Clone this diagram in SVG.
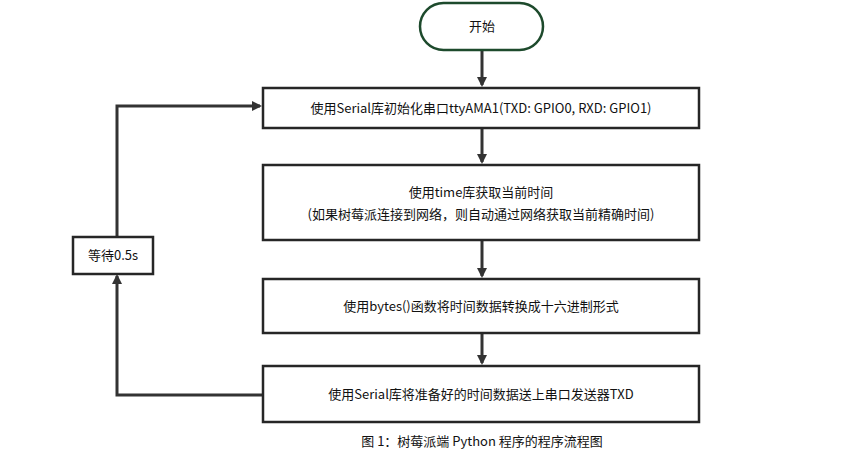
<svg xmlns="http://www.w3.org/2000/svg" width="846" height="459" viewBox="0 0 846 459">
<style>
text{font-family:"Microsoft YaHei","Noto Sans CJK SC",sans-serif;font-size:13px;fill:#111;text-anchor:middle}
.b{fill:#fff;stroke:#262626;stroke-width:2.5}
.c{fill:none;stroke:#333;stroke-width:3}
</style>
<defs><marker id="a" markerWidth="10" markerHeight="10" refX="8" refY="5" orient="auto" markerUnits="userSpaceOnUse"><path d="M0,0L10,5L0,10z" fill="#333"/></marker></defs>
<rect width="846" height="459" fill="#fff"/>
<g id="connectors">
<path class="c" d="M482,51V85" marker-end="url(#a)"/>
<path class="c" d="M482,129V162" marker-end="url(#a)"/>
<path class="c" d="M482,241V276" marker-end="url(#a)"/>
<path class="c" d="M482,334V363" marker-end="url(#a)"/>
<path class="c" d="M263,395H117V276" marker-end="url(#a)"/>
<path class="c" d="M117,237V106H260" marker-end="url(#a)"/>
</g>
<g id="start"><rect x="420" y="3" width="123" height="47" rx="23.5" fill="#fff" stroke="#1d4a2c" stroke-width="2.5"/><text x="482" y="31">开始</text></g>
<g id="n1"><rect class="b" x="263" y="88" width="436" height="40"/><text x="481" y="113">使用Serial库初始化串口ttyAMA1(TXD: GPIO0, RXD: GPIO1)</text></g>
<g id="n2"><rect class="b" x="263" y="165" width="436" height="75"/><text x="481" y="197">使用time库获取当前时间</text><text x="481" y="219">(如果树莓派连接到网络，则自动通过网络获取当前精确时间)</text></g>
<g id="n3"><rect class="b" x="263" y="279" width="436" height="54"/><text x="481" y="311">使用bytes()函数将时间数据转换成十六进制形式</text></g>
<g id="n4"><rect class="b" x="263" y="366" width="436" height="56"/><text x="481" y="399">使用Serial库将准备好的时间数据送上串口发送器TXD</text></g>
<g id="wait"><rect class="b" x="73" y="237" width="80" height="37"/><text x="113" y="260">等待0.5s</text></g>
<text x="482" y="446" style="font-size:13px">图 1：树莓派端 Python 程序的程序流程图</text>
</svg>
